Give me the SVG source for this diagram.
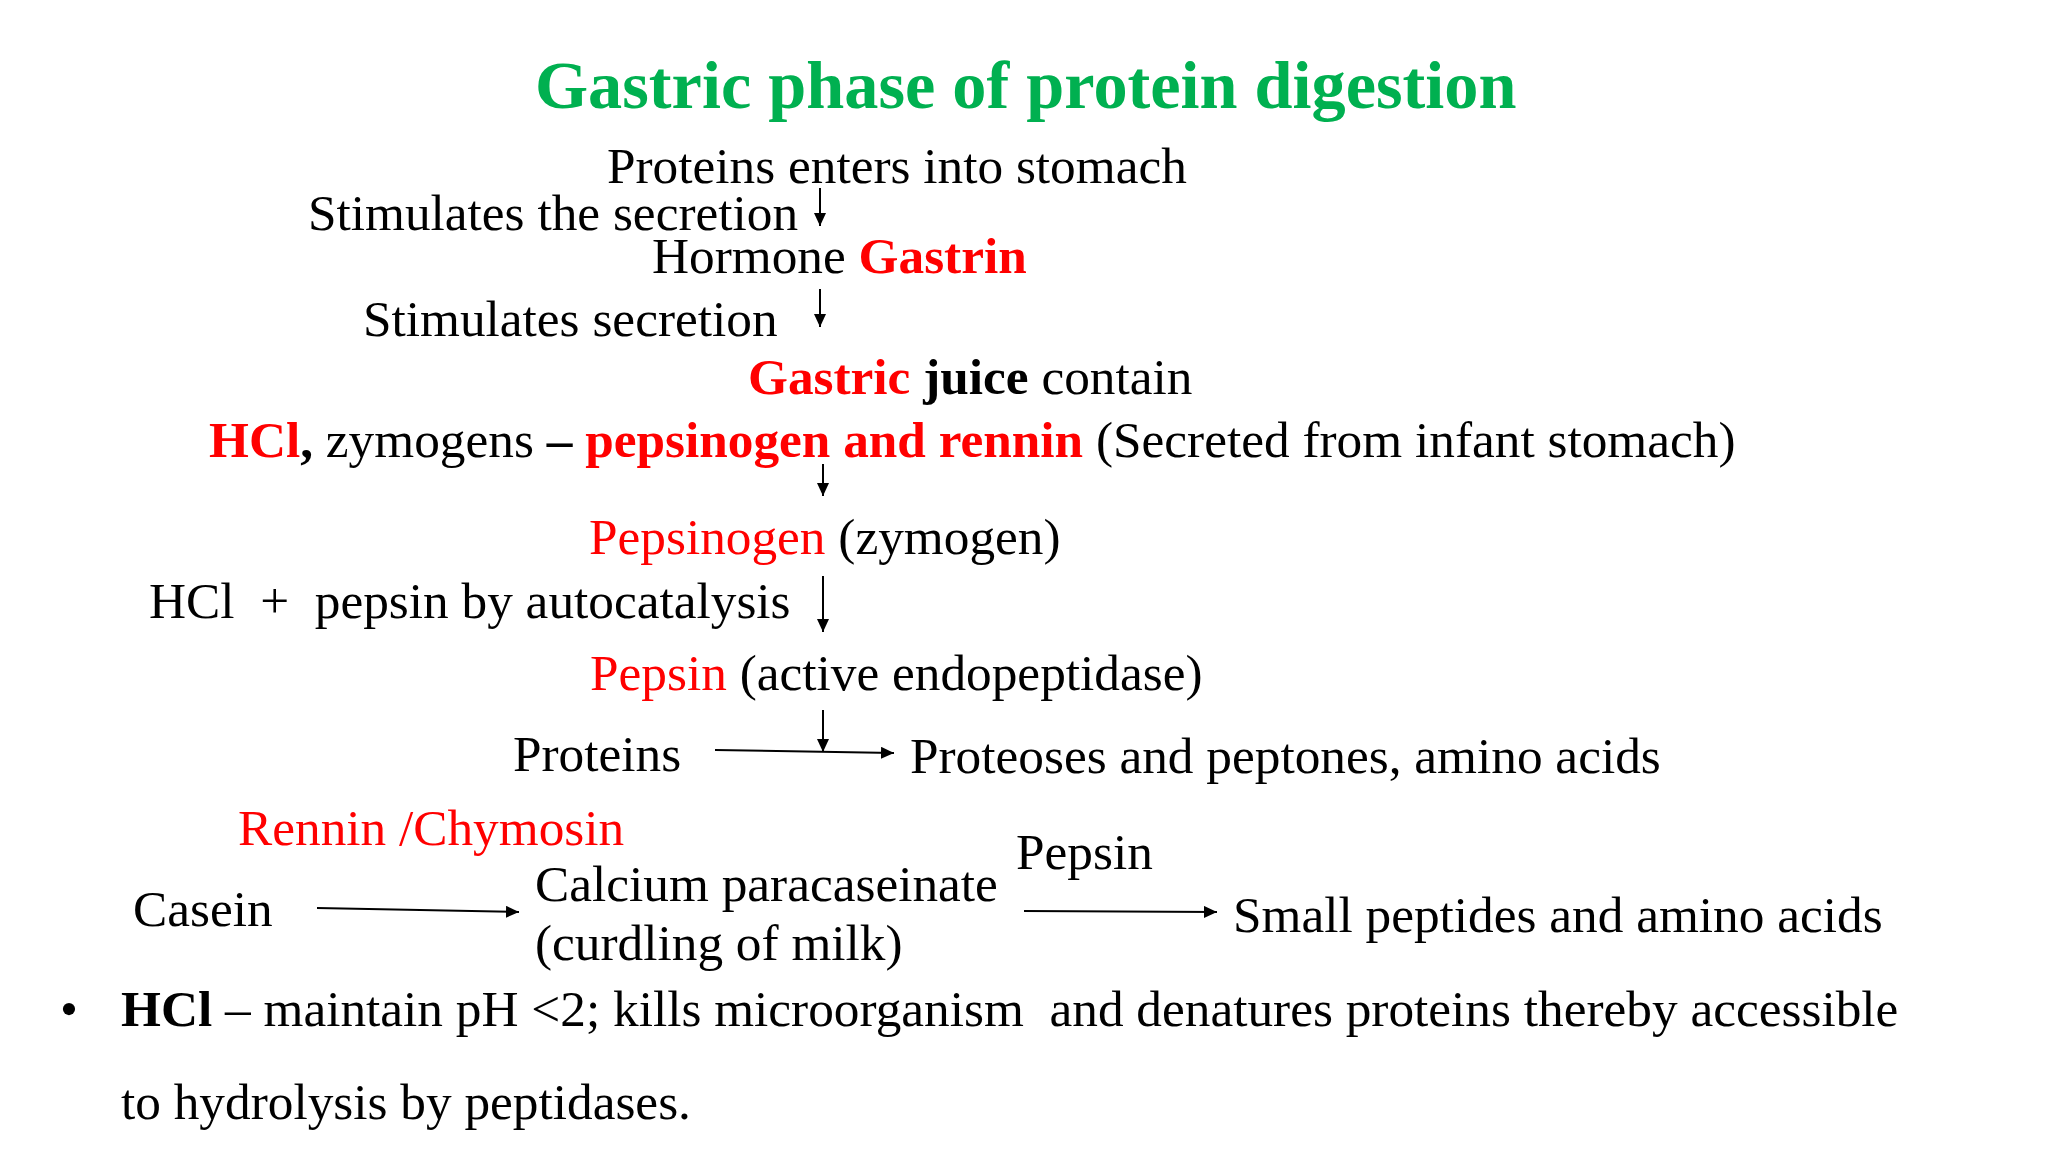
<svg xmlns="http://www.w3.org/2000/svg" width="2048" height="1152" viewBox="0 0 2048 1152">
<style>
text { font-family: "Liberation Serif", "Times New Roman", serif; font-size: 51.3px; fill: #000; white-space: pre; }
.title { font-size: 68.3px; font-weight: bold; fill: #00B050; }
.red { fill: #FF0000; }
.b { font-weight: bold; }
.conn { stroke: #000; stroke-width: 2; fill: none; }
</style>
<defs>
<marker id="ah" markerUnits="userSpaceOnUse" markerWidth="14" markerHeight="12" refX="13" refY="6" orient="auto">
<path d="M0,0 L13,6 L0,12 z" fill="#000"/>
</marker>
</defs>
<rect width="2048" height="1152" fill="#fff"/>
<g id="title"><text class="title" x="535" y="108">Gastric phase of protein digestion</text></g>
<g id="n-proteins-enter"><text x="607" y="183">Proteins enters into stomach</text></g>
<g id="l-stim1"><text x="308" y="230">Stimulates the secretion</text></g>
<g id="n-gastrin"><text x="652" y="273">Hormone <tspan class="red b">Gastrin</tspan></text></g>
<g id="l-stim2"><text x="363" y="336">Stimulates secretion</text></g>
<g id="n-juice"><text x="748" y="394"><tspan class="red b">Gastric</tspan> <tspan class="b">juice</tspan> contain</text></g>
<g id="n-hcl"><text x="209" y="457"><tspan class="red b">HCl</tspan><tspan class="b">,</tspan> zymogens <tspan class="b">–</tspan> <tspan class="red b">pepsinogen and rennin</tspan> (Secreted from infant stomach)</text></g>
<g id="n-pepsinogen"><text x="589" y="554"><tspan class="red">Pepsinogen</tspan> (zymogen)</text></g>
<g id="l-auto"><text x="149" y="618">HCl  +  pepsin by autocatalysis</text></g>
<g id="n-pepsin"><text x="590" y="690"><tspan class="red">Pepsin</tspan> (active endopeptidase)</text></g>
<g id="n-proteins"><text x="513" y="771">Proteins</text></g>
<g id="n-proteoses"><text x="910" y="773">Proteoses and peptones, amino acids</text></g>
<g id="l-rennin"><text class="red" x="238" y="845">Rennin /Chymosin</text></g>
<g id="n-casein"><text x="133" y="926">Casein</text></g>
<g id="n-calcium"><text x="535" y="901">Calcium paracaseinate</text><text x="535" y="960">(curdling of milk)</text></g>
<g id="l-pepsin2"><text x="1016" y="869">Pepsin</text></g>
<g id="n-small"><text x="1233" y="932">Small peptides and amino acids</text></g>
<g id="note">
<text x="60" y="1026">•</text>
<text x="121" y="1026"><tspan class="b">HCl</tspan> – maintain pH &lt;2; kills microorganism  and denatures proteins thereby accessible</text>
<text x="121" y="1119">to hydrolysis by peptidases.</text>
</g>
<g id="connectors">
<path class="conn" d="M820,188 L820,226" marker-end="url(#ah)"/>
<path class="conn" d="M820,289 L820,327" marker-end="url(#ah)"/>
<path class="conn" d="M823,464 L823,496" marker-end="url(#ah)"/>
<path class="conn" d="M823,576 L823,632" marker-end="url(#ah)"/>
<path class="conn" d="M823,710 L823,752" marker-end="url(#ah)"/>
<path class="conn" d="M715,750 L894,753" marker-end="url(#ah)"/>
<path class="conn" d="M317,908 L519,912" marker-end="url(#ah)"/>
<path class="conn" d="M1024,911 L1217,912" marker-end="url(#ah)"/>
</g>
</svg>
